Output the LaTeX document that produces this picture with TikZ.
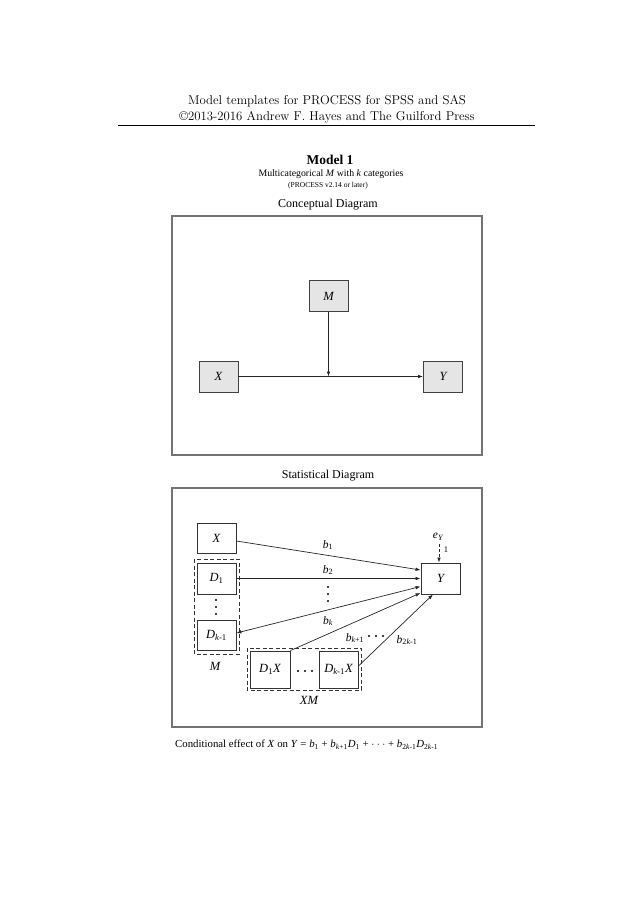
\documentclass[tikz,border=0pt]{standalone}
\usepackage{fontspec}
\newfontfamily\tms{Liberation Serif}
\usetikzlibrary{arrows.meta}
\tikzset{
  cbox/.style={draw=black!75, fill=black!10, line width=0.9pt, minimum width=39pt, minimum height=31pt, inner sep=0pt, font=\tms\itshape\fontsize{12.5}{14}\selectfont},
  sbox/.style={draw=black!80, line width=0.9pt, minimum width=39pt, minimum height=30pt, inner sep=0pt, font=\tms\itshape\fontsize{12.5}{14}\selectfont},
  frame/.style={draw=black!55, line width=1.2pt},
  grp/.style={draw=black!80, dashed, dash pattern=on 4pt off 2.5pt, line width=0.8pt},
  arr/.style={-{Latex[length=5pt,width=3.6pt]}, line width=0.7pt, draw=black!85},
  lab/.style={font=\tms\itshape\fontsize{11.5}{13}\selectfont, inner sep=0pt},
  ttl/.style={font=\tms\fontsize{12}{14}\selectfont, inner sep=0pt},
  dot/.style={circle, fill=black, inner sep=0pt, minimum size=2.1pt}
}
\begin{document}
\begin{tikzpicture}[x=1pt,y=-1pt]
\useasboundingbox (0,0) rectangle (638,902);
% header
\node[font=\fontsize{12.8}{15}\selectfont, inner sep=0pt] (h1) at (327,101) {Model templates for PROCESS for SPSS and SAS};
\node[font=\fontsize{12.8}{15}\selectfont, inner sep=0pt] (h2) at (327,117) {\textcopyright2013-2016 Andrew F. Hayes and The Guilford Press};
\draw[line width=0.6pt] (118,125) -- (535,125);
\node[font=\tms\bfseries\fontsize{13.5}{16}\selectfont, inner sep=0pt] (t1) at (330,160) {Model 1};
\node[font=\tms\fontsize{9.8}{11}\selectfont, inner sep=0pt] (t2) at (331,174) {Multicategorical \textit{M} with \textit{k} categories};
\node[font=\tms\fontsize{7.5}{9}\selectfont, inner sep=0pt] (t3) at (328,186) {(PROCESS v2.14 or later)};
\node[ttl] (t4) at (328,205) {Conceptual Diagram};
% conceptual
\draw[frame] (172,216) rectangle (482,455);
\node[cbox] (cM) at (328.5,296) {M};
\node[cbox] (cX) at (218.5,376.5) {X};
\node[cbox] (cY) at (443,376.5) {Y};
\coordinate (cmid) at (328.5,376.5);
\draw[arr] (cX.east) -- (cY.west);
\draw[arr] (cM.south) -- (cmid);
% statistical
\node[ttl] (t5) at (328,476) {Statistical Diagram};
\draw[frame] (172,488) rectangle (482,727);
\node[sbox] (sX) at (216.5,538) {X};
\node[sbox, minimum height=31pt] (sD1) at (216.5,578.5) {D\textsubscript{\upshape 1}};
\node[sbox] (sDk) at (216.5,635) {D\textsubscript{k\upshape -1}};
\draw[grp] (194,559) rectangle (239,654);
\node[lab, font=\tms\itshape\fontsize{12.5}{14}\selectfont] (lM) at (215,666) {M};
\node[dot] (v1) at (216,600) {};
\node[dot] (v2) at (216,607) {};
\node[dot] (v3) at (216,614) {};
\node[sbox, minimum height=31pt] (sY) at (440.5,578.5) {Y};
\node[sbox, minimum width=40pt, minimum height=37pt] (sD1X) at (270,669.5) {D\textsubscript{\upshape 1}X};
\node[sbox, minimum height=37pt] (sDkX) at (338.5,669.5) {D\textsubscript{k\upshape -1}X};
\draw[grp] (247,648) rectangle (361,690);
\node[lab, font=\tms\itshape\fontsize{12.5}{14}\selectfont] (lXM) at (309,700) {XM};
\node[dot] (h1d) at (298,671) {};
\node[dot] (h2d) at (305,671) {};
\node[dot] (h3d) at (312,671) {};
% e_Y
\node[lab] (eY) at (438,537) {e\textsubscript{Y}};
\node[lab, font=\tms\fontsize{8.5}{10}\selectfont] (one) at (446,550) {1};
\coordinate (eYb) at (439,544);
\draw[arr, dashed, dash pattern=on 3pt off 2pt] (eYb) -- (sY.north -| eYb);
% paths
\draw[arr] (sX.east |- 0,541) -- (sY.west |- 0,570);
\draw[arr] (sD1.east) -- (sY.west |- 0,578.5);
\draw[arr, {Latex[length=5pt,width=3.6pt]}-{Latex[length=5pt,width=3.6pt]}] (sDk.east |- 0,633) -- (sY.west |- 0,586.5);
\draw[arr] (sD1X.north east) -- (sY.west |- 0,593);
\draw[arr] (sDkX.east |- 0,666) -- (sY.south -| 433,0);
% labels
\node[lab] (b1) at (328,545) {b\textsubscript{\upshape 1}};
\node[lab] (b2) at (328,570) {b\textsubscript{\upshape 2}};
\node[dot] (m1) at (328,587) {};
\node[dot] (m2) at (328,594) {};
\node[dot] (m3) at (328,601) {};
\node[lab] (bk) at (328,621) {b\textsubscript{k}};
\node[lab] (bk1) at (355,638) {b\textsubscript{k\upshape +1}};
\node[dot] (d1) at (369,636) {};
\node[dot] (d2) at (376,636) {};
\node[dot] (d3) at (383,636) {};
\node[lab] (b2k) at (407,640) {b\textsubscript{\upshape 2\itshape k\upshape -1}};
% conditional effect
\node[anchor=west, inner sep=0pt, font=\tms\fontsize{10.8}{12}\selectfont] (ce) at (175,745) {Conditional effect of \textit{X} on \textit{Y} = \textit{b}\textsubscript{1} + \textit{b}\textsubscript{\textit{k}+1}\textit{D}\textsubscript{1} + $\cdot\cdot\cdot$ + \textit{b}\textsubscript{2\textit{k}-1}\textit{D}\textsubscript{2\textit{k}-1}};
\end{tikzpicture}
\end{document}
